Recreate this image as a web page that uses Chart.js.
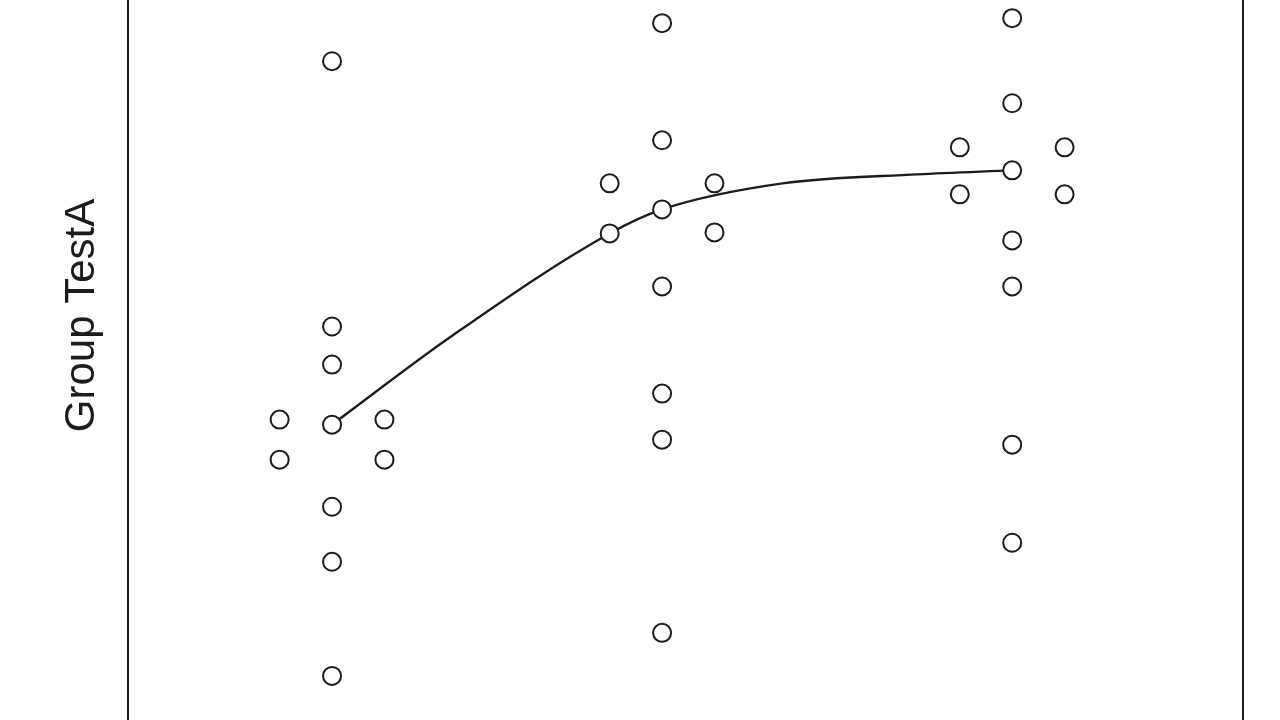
<!DOCTYPE html>
<html>
<head>
<meta charset="utf-8">
<script src="https://cdn.jsdelivr.net/npm/chart.js@4"></script>
<style>
  html, body { margin: 0; padding: 0; background: #fff; overflow: hidden; }
  #wrap { position: absolute; left: 0; top: -131px; width: 1280px; height: 893px; }
</style>
</head>
<body>
<div id="wrap"><canvas id="myChart" width="1280" height="893"></canvas></div>
<script>
// group positions on the x scale and the sideways offset of the side columns
const groupX = [1.83, 4.79, 7.93];
const sideOffset = 0.47;

// y values, per group: centre column, left column, right column
const centreA = [68.9, 42.4, 38.6, 32.6, 24.4, 18.9, 7.5];
const leftA   = [33.1, 29.1];
const rightA  = [33.1, 29.1];

const centreB = [72.7, 61.0, 54.1, 46.4, 35.7, 31.1, 11.8];
const leftB   = [56.7, 51.7];
const rightB  = [56.7, 51.8];

const centreC = [73.2, 64.7, 58.0, 51.0, 46.4, 30.6, 20.8];
const leftC   = [60.3, 55.6];
const rightC  = [60.3, 55.6];

// the smoothed curve
const trendX = [1.83, 2.91, 4.32, 4.79, 5.87, 7.08, 7.93];
const trendY = [32.6, 41.5, 51.7, 54.1, 56.7, 57.6, 58.0];

const yTitle = "Group TestA";

const groups = [
  [centreA, leftA, rightA],
  [centreB, leftB, rightB],
  [centreC, leftC, rightC],
];

let points = [];
groups.forEach(function (g, i) {
  g[0].forEach(v => points.push({ x: groupX[i], y: v }));
  g[1].forEach(v => points.push({ x: groupX[i] - sideOffset, y: v }));
  g[2].forEach(v => points.push({ x: groupX[i] + sideOffset, y: v }));
});
const trend = trendX.map((x, i) => ({ x: x, y: trendY[i] }));

const ink = "#1c1c1c";

new Chart(document.getElementById('myChart'), {
  type: 'scatter',
  data: {
    datasets: [
      {
        label: 'points',
        data: points,
        pointRadius: 9,
        pointHoverRadius: 9,
        pointBorderWidth: 2,
        pointBorderColor: ink,
        pointBackgroundColor: '#fff',
        showLine: false,
      },
      {
        label: 'trend',
        data: trend,
        showLine: true,
        pointRadius: 0,
        borderColor: ink,
        borderWidth: 2.3,
        cubicInterpolationMode: 'monotone',
      }
    ]
  },
  options: {
    responsive: false,
    animation: false,
    layout: { padding: 0 },
    plugins: { legend: false, tooltip: { enabled: false } },
    scales: {
      x: {
        type: 'linear',
        min: 0,
        max: 10,
        display: false,
      },
      y: {
        position: 'left',
        min: 0,
        max: 87,
        grid: { display: false },
        ticks: { display: false },
        border: { display: true, color: ink, width: 2 },
        title: {
          display: true,
          text: yTitle,
          color: ink,
          font: { family: '"Liberation Sans", Arial, sans-serif', size: 42 },
          padding: { top: 57, bottom: 20 },
        },
        afterFit: function (scale) { scale.width = 128; },
      },
      y2: {
        position: 'right',
        min: 0,
        max: 87,
        grid: { display: false },
        ticks: { display: false },
        border: { display: true, color: ink, width: 2 },
        afterFit: function (scale) { scale.width = 37; },
      }
    }
  }
});
</script>
</body>
</html>
